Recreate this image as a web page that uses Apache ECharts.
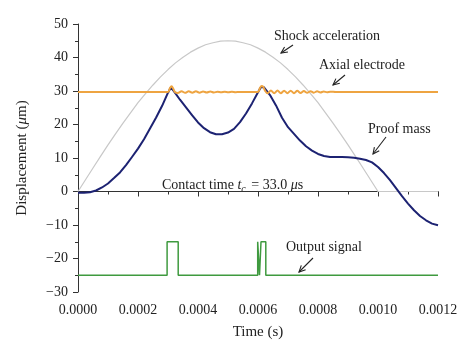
<!DOCTYPE html>
<html><head><meta charset="utf-8">
<script src="https://cdn.jsdelivr.net/npm/echarts@6/dist/echarts.min.js"></script>
<style>html,body{margin:0;padding:0;background:#fff}#c{width:474px;height:357px}</style>
</head><body><div id="c"></div>
<script>
// Shock acceleration (gray)
const shockT = [0,0.000025,0.00005,0.000075,0.0001,0.000125,0.00015,0.000175,0.0002,0.000225,0.00025,0.000275,0.0003,0.000325,0.00035,0.000375,0.0004,0.000425,0.00045,0.000475,0.0005,0.000525,0.00055,0.000575,0.0006,0.000625,0.00065,0.000675,0.0007,0.000725,0.00075,0.000775,0.0008,0.000825,0.00085,0.000875,0.0009,0.000925,0.00095,0.000975,0.001,0.0012];
const shockV = [0,3.5,7.0,10.5,13.9,17.2,20.4,23.5,26.5,29.2,31.8,34.2,36.4,38.4,40.1,41.6,42.8,43.8,44.4,44.9,45,44.9,44.4,43.8,42.8,41.6,40.1,38.4,36.4,34.2,31.8,29.2,26.5,23.5,20.4,17.2,13.9,10.5,7.0,3.5,0,0];
// Proof mass (navy)
const massT = [0,0.00002,0.00004,0.00006,0.00008,0.0001,0.00012,0.00014,0.00016,0.00018,0.0002,0.00022,0.00024,0.00026,0.00028,0.0003,0.00031,0.000313,0.00032,0.00034,0.00036,0.00038,0.0004,0.00042,0.00044,0.00046,0.00048,0.0005,0.00052,0.00054,0.00056,0.00058,0.0006,0.00061,0.000614,0.00062,0.00064,0.00066,0.00068,0.0007,0.00072,0.00074,0.00076,0.00078,0.0008,0.00082,0.00084,0.00086,0.00088,0.0009,0.00092,0.00094,0.00096,0.00098,0.001,0.00102,0.00104,0.00106,0.00108,0.0011,0.00112,0.00114,0.00116,0.00118,0.0012];
const massV = [-0.4,-0.4,-0.2,0.3,1.2,2.4,4.0,5.7,7.9,10.3,12.8,15.6,18.8,22.0,25.5,29.5,31.1,31.4,29.9,27.4,25.1,22.8,20.6,18.9,17.7,17.1,17.1,17.6,18.7,20.7,23.3,26.3,29.6,31.2,31.5,31.1,28.8,25.7,22.0,19.2,17.2,15.2,13.5,12.2,11.2,10.6,10.3,10.3,10.3,10.2,10.1,9.8,9.4,8.7,7.3,5.5,3.4,1.0,-1.4,-3.6,-5.6,-7.3,-8.6,-9.6,-10.1];
// Axial electrode (orange)
const elecT = [0,0.0003,0.000306,0.000312,0.000318,0.000323,0.000333,0.000345,0.000357,0.000369,0.000381,0.000393,0.000405,0.000417,0.000429,0.000441,0.000453,0.000465,0.000477,0.000489,0.000501,0.000513,0.000525,0.00054,0.0006,0.000606,0.000612,0.000618,0.000624,0.000632,0.000643,0.000654,0.000665,0.000676,0.000687,0.000698,0.000709,0.00072,0.000731,0.000742,0.000753,0.000764,0.000775,0.000786,0.000797,0.000808,0.000819,0.00083,0.000841,0.00086,0.0012];
const elecV = [29.7,29.7,30.8,31.4,30.6,29.7,29.4,29.95,29.45,29.9,29.5,29.9,29.5,29.85,29.55,29.85,29.55,29.8,29.6,29.8,29.6,29.75,29.65,29.7,29.7,30.8,31.5,31.2,30.0,29.3,30.15,29.3,30.15,29.3,30.1,29.35,30.1,29.35,30.05,29.4,30.0,29.45,29.95,29.5,29.9,29.55,29.85,29.6,29.8,29.7,29.7];
// Output signal (green)
const sigT = [0,0.000297,0.000297,0.000299,0.000299,0.000334,0.000334,0.000599,0.000599,0.000605,0.000605,0.00061,0.00061,0.000626,0.000626,0.0012];
const sigV = [-25,-25,-15,-15,-15,-15,-25,-25,-15,-15,-25,-25,-15,-15,-25,-25];

const xTicks = [0,0.0002,0.0004,0.0006,0.0008,0.0010,0.0012];
const yTicks = [-30,-20,-10,0,10,20,30,40,50];

const zip = (a,b)=>a.map((t,i)=>[t,b[i]]);
const FONT = '"Liberation Serif","DejaVu Serif",serif';
const chart = echarts.init(document.getElementById('c'));
const option = {
  animation:false,
  backgroundColor:'#fff',
  textStyle:{fontFamily:FONT},
  grid:{left:78,right:36,top:24,bottom:65},
  xAxis:{type:'value',min:xTicks[0],max:xTicks[xTicks.length-1],interval:0.0002,
    name:'Time (s)',nameLocation:'middle',nameGap:33,
    nameTextStyle:{fontFamily:FONT,fontSize:15,color:'#222'},
    axisLine:{show:true,lineStyle:{color:'#333',width:1}},
    axisTick:{show:true,length:5,lineStyle:{color:'#333'}},
    minorTick:{show:true,splitNumber:2,length:3,lineStyle:{color:'#333'}},
    splitLine:{show:false},
    axisLabel:{fontFamily:FONT,fontSize:14,color:'#222',margin:11,formatter:v=>v.toFixed(4)}},
  yAxis:{type:'value',min:yTicks[0],max:yTicks[yTicks.length-1],interval:10,
    name:'{n|Displacement (}{i|μ}{n|m)}',nameLocation:'middle',nameGap:48,
    nameTextStyle:{fontFamily:FONT,fontSize:15,color:'#222',rich:{n:{fontFamily:FONT,fontSize:15,color:'#222'},i:{fontFamily:FONT,fontSize:15,fontStyle:'italic',color:'#222'}}},
    axisLine:{show:true,lineStyle:{color:'#333',width:1}},
    axisTick:{show:true,length:5,lineStyle:{color:'#333'}},
    minorTick:{show:true,splitNumber:2,length:3,lineStyle:{color:'#333'}},
    splitLine:{show:false},
    axisLabel:{fontFamily:FONT,fontSize:14,color:'#222',margin:10,formatter:v=>v<0?'\u2212'+(-v):String(v)}},
  series:[
    {type:'line',data:zip(shockT,shockV),smooth:false,symbol:'none',lineStyle:{color:'#c8c8c8',width:1.2}},
    {type:'line',data:zip(sigT,sigV),symbol:'none',lineStyle:{color:'#3f9a3f',width:1.5}},
    {type:'line',data:zip(massT,massV),smooth:false,symbol:'none',lineStyle:{color:'#1c2272',width:2,join:'round'}},
    {type:'line',data:zip(elecT,elecV),smooth:0.3,symbol:'none',lineStyle:{color:'#eea441',width:2}}
  ]
};
chart.setOption(option);

function arrow(x1,y1,x2,y2){
  const a=Math.atan2(y2-y1,x2-x1), L=7, s=0.45;
  return [
    {type:'line',shape:{x1,y1,x2,y2},style:{stroke:'#222',lineWidth:1.1}},
    {type:'polyline',shape:{points:[[x2-L*Math.cos(a-s),y2-L*Math.sin(a-s)],[x2,y2],[x2-L*Math.cos(a+s),y2-L*Math.sin(a+s)]]},style:{stroke:'#222',lineWidth:1.1,fill:null}}
  ];
}
const txt=(x,y,t)=>({type:'text',x,y,style:{text:t,font:'14px '+FONT,fill:'#222',textVerticalAlign:'middle'}});
const els=[];
els.push(txt(274,36,'Shock acceleration'));
els.push(...arrow(293,45,281,53));
els.push(txt(319,65,'Axial electrode'));
els.push(...arrow(345,75,333,85));
els.push(txt(368,129,'Proof mass'));
els.push(...arrow(386,137,373,154));
els.push(txt(286,247,'Output signal'));
els.push(...arrow(313,258,299,272));
els.push({type:'text',x:162,y:185,style:{
  text:'{n|Contact time }{i|t}{s|c}{n| = 33.0 }{i|μ}{n|s}',
  textVerticalAlign:'middle',
  rich:{n:{fontFamily:FONT,fontSize:14,fill:'#222'},i:{fontFamily:FONT,fontSize:14,fontStyle:'italic',fill:'#222'},s:{fontFamily:FONT,fontSize:10,fontStyle:'italic',fill:'#222',padding:[8,2,0,0]}}}});
chart.setOption({graphic:els});
</script></body></html>
